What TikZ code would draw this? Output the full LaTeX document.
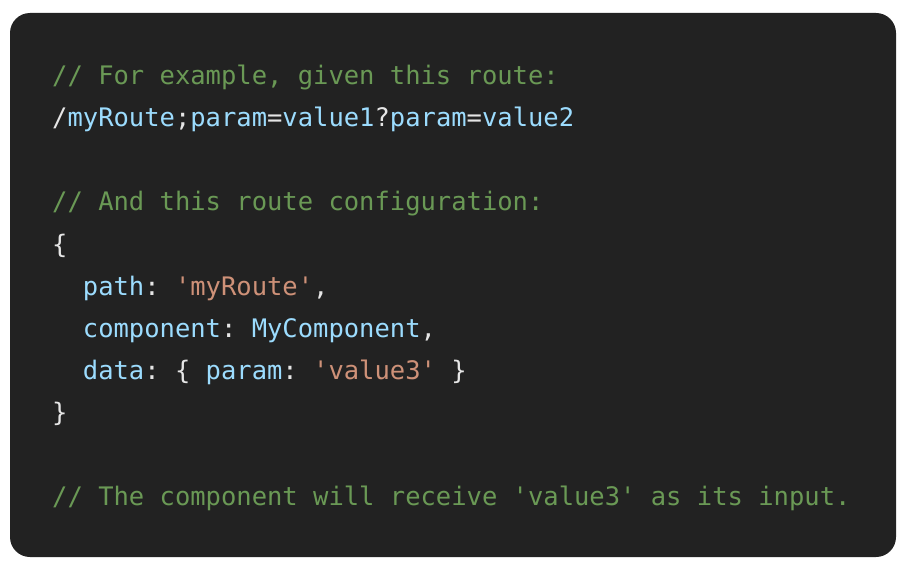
\documentclass[tikz,border=0pt]{standalone}
\usepackage{fontspec}
\setmonofont{DejaVu Sans Mono}
\definecolor{bgcode}{RGB}{34,34,34}
\definecolor{cmt}{RGB}{106,153,85}
\definecolor{txt}{RGB}{230,230,230}
\definecolor{key}{RGB}{156,220,254}
\definecolor{str}{RGB}{206,145,120}
\newcommand{\Cm}[1]{\textcolor{cmt}{#1}}
\newcommand{\Ky}[1]{\textcolor{key}{#1}}
\newcommand{\St}[1]{\textcolor{str}{#1}}
\tikzset{codeline/.style={anchor=base west,inner sep=0pt,text=txt,font=\ttfamily\fontsize{25.5}{29}\selectfont}}
\begin{document}
\begin{tikzpicture}[x=1pt,y=-1pt]
\useasboundingbox (0,0) rectangle (907,567);
\fill[white] (0,0) rectangle (907,567);
\fill[bgcode,rounded corners=20pt] (10,13) rectangle (896,557);
% code lines
\node[codeline] (l1) at (52,85) {\Cm{// For example, given this route:}};
\node[codeline] (l2) at (52,127) {/\Ky{myRoute};\Ky{param}=\Ky{value1}?\Ky{param}=\Ky{value2}};
\node[codeline] (l3) at (52,210) {\Cm{// And this route configuration:}};
\node[codeline] (l4) at (52,253) {\{};
\node[codeline] (l5) at (52,295) {\ \ \Ky{path}: \St{'myRoute'},};
\node[codeline] (l6) at (52,337) {\ \ \Ky{component}: \Ky{MyComponent},};
\node[codeline] (l7) at (52,379) {\ \ \Ky{data}: \{ \Ky{param}: \St{'value3'} \}};
\node[codeline] (l8) at (52,421) {\}};
\node[codeline] (l9) at (52,505) {\Cm{// The component will receive 'value3' as its input.}};
\end{tikzpicture}
\end{document}
